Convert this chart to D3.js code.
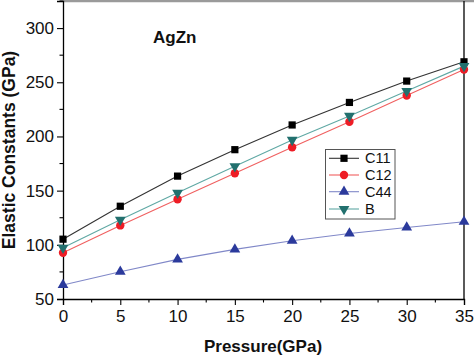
<!DOCTYPE html>
<html><head><meta charset="utf-8">
<script src="https://cdn.jsdelivr.net/npm/d3@7"></script>
<style>body{margin:0;background:#fff}svg{display:block}text{font-family:"Liberation Sans",Arial,sans-serif}</style>
</head><body>
<svg id="c" width="474" height="356"></svg>
<script>
const pressure = [0, 5, 10, 15, 20, 25, 30, 35];
const c11 = [105.2, 135.6, 163.4, 187.8, 210.6, 231.4, 251.1, 268.9];
const c12 = [92.7, 117.9, 142.1, 166.0, 190.0, 213.6, 237.8, 261.8];
const c44 = [62.9, 75.2, 86.6, 95.8, 103.8, 110.5, 116.0, 121.3];
const bMod = [97.3, 123.1, 148.0, 172.5, 196.8, 218.9, 241.9, 264.9];
const seriesNames = ["C11", "C12", "C44", "B"];
const xTicks = [0, 5, 10, 15, 20, 25, 30, 35];
const yTicks = [50, 100, 150, 200, 250, 300];

const svg = d3.select("#c");
const L = 63, R = 464, T = 1, B = 299;
const x = d3.scaleLinear().domain([0, 35]).range([L, R]);
const y = d3.scaleLinear().domain([50, 325]).range([B, T]);

const series = [
  {name: seriesNames[0], vals: c11, mark: "#000000", line: "#333333", sym: d3.symbolSquare, size: 52, rot: 0},
  {name: seriesNames[1], vals: c12, mark: "#ee1c25", line: "#f06060", sym: d3.symbolCircle, size: 55, rot: 0},
  {name: seriesNames[2], vals: c44, mark: "#2b3a9c", line: "#8088c8", sym: d3.symbolTriangle, size: 50, rot: 0},
  {name: seriesNames[3], vals: bMod, mark: "#22706e", line: "#5fa8a4", sym: d3.symbolTriangle, size: 50, rot: 180}
];

// frame
svg.append("line").attr("x1", L).attr("x2", 474).attr("y1", 1).attr("y2", 1)
  .attr("stroke", "#9a9a9a").attr("stroke-width", 2.5);
svg.append("line").attr("x1", R).attr("x2", R).attr("y1", T).attr("y2", B)
  .attr("stroke", "#000").attr("stroke-width", 1.3);

// axes
const yAxis = d3.axisLeft(y).tickValues(yTicks).tickSize(6).tickPadding(3);
const gy = svg.append("g").attr("transform", `translate(${L},0)`).call(yAxis);
const xAxis = d3.axisBottom(x).tickValues(xTicks).tickSize(6).tickPadding(5);
const gx = svg.append("g").attr("transform", `translate(0,${B})`).call(xAxis);
[gx, gy].forEach(g => {
  g.select(".domain").attr("stroke", "#000").attr("stroke-width", 1.3);
  g.selectAll(".tick line").attr("stroke", "#000").attr("stroke-width", 1.1);
  g.selectAll(".tick text").attr("font-size", 17).attr("fill", "#111")
    .attr("font-family", '"Liberation Sans",Arial,sans-serif');
});
// minor ticks
const xMinor = xTicks.slice(0, -1).map(v => v + 2.5);
svg.append("g").selectAll("line").data(xMinor).join("line")
  .attr("x1", d => x(d)).attr("x2", d => x(d)).attr("y1", B).attr("y2", B + 3.5)
  .attr("stroke", "#000").attr("stroke-width", 1.1);
const yMinor = yTicks.map(v => v + 25);
svg.append("g").selectAll("line").data(yMinor).join("line")
  .attr("x1", L - 3.5).attr("x2", L).attr("y1", d => y(d)).attr("y2", d => y(d))
  .attr("stroke", "#000").attr("stroke-width", 1.1);

// axis titles
svg.append("text").attr("x", 263).attr("y", 352).attr("text-anchor", "middle")
  .attr("font-size", 17).attr("font-weight", "bold").attr("fill", "#111").text("Pressure(GPa)");
svg.append("text").attr("transform", "translate(15,150) rotate(-90)").attr("text-anchor", "middle")
  .attr("font-size", 17.5).attr("font-weight", "bold").attr("fill", "#111").text("Elastic Constants (GPa)");
svg.append("text").attr("x", 153).attr("y", 43).attr("font-size", 17).attr("font-weight", "bold")
  .attr("fill", "#111").text("AgZn");

// lines and markers
const lineGen = d3.line().x((d, i) => x(pressure[i])).y(d => y(d));
series.forEach(s => {
  svg.append("path").attr("d", lineGen(s.vals)).attr("fill", "none")
    .attr("stroke", s.line).attr("stroke-width", 1.1);
});
series.forEach(s => {
  const sym = d3.symbol().type(s.sym).size(s.size);
  svg.append("g").selectAll("path").data(s.vals).join("path")
    .attr("d", sym)
    .attr("transform", (d, i) => `translate(${x(pressure[i])},${y(d)}) rotate(${s.rot})`)
    .attr("fill", s.mark);
});

// legend
const lg = svg.append("g");
lg.append("rect").attr("x", 325.5).attr("y", 149.5).attr("width", 69.5).attr("height", 69.5)
  .attr("fill", "#fff").attr("stroke", "#555").attr("stroke-width", 1);
const rowY = [158.3, 175, 191.7, 209];
series.forEach((s, i) => {
  lg.append("line").attr("x1", 329).attr("x2", 359).attr("y1", rowY[i]).attr("y2", rowY[i])
    .attr("stroke", s.line).attr("stroke-width", 1.1);
  lg.append("path").attr("d", d3.symbol().type(s.sym).size(s.size))
    .attr("transform", `translate(344,${rowY[i]}) rotate(${s.rot})`).attr("fill", s.mark);
  lg.append("text").attr("x", 365).attr("y", rowY[i] + 5).attr("font-size", 14.5)
    .attr("fill", "#111").text(s.name);
});
</script>
</body></html>
